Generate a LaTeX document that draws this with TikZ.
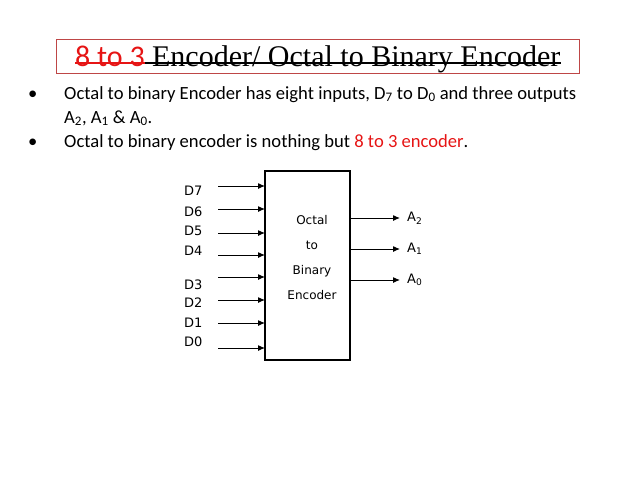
\documentclass[tikz,border=0pt]{standalone}
\usepackage{fontspec}
\setmainfont{Carlito}
\newfontfamily\titlefont{Liberation Serif}
\newfontfamily\diafont{DejaVu Sans}
\usetikzlibrary{arrows.meta}
\definecolor{myred}{RGB}{230,20,20}
\definecolor{boxred}{RGB}{190,70,70}
\begin{document}
\begin{tikzpicture}[x=1pt,y=-1pt,
  arr/.style={-{Latex[length=7pt,width=6pt]},line width=1pt},
  lbl/.style={font=\diafont\fontsize{13}{15}\selectfont,inner sep=0pt,anchor=west},
  btxt/.style={font=\fontsize{18.6}{22}\selectfont,inner sep=0pt,anchor=base west}]
\useasboundingbox (0,0) rectangle (638,493);
\draw[boxred,line width=0.8pt] (56,39) rectangle (579,73);
\node[inner sep=0pt,anchor=base west,font=\fontsize{30}{34}\selectfont,myred] (t8) at (75,66) {8 to 3};
\node[inner sep=0pt,anchor=base west,font=\titlefont\fontsize{30}{34}\selectfont] (tr) at ([xshift=7pt]t8.base east) {Encoder/ Octal to Binary Encoder};
\draw[myred,line width=1.2pt] ([yshift=3pt]t8.base west) -- ([yshift=3pt]t8.base east) coordinate (u1);
\draw[line width=1.2pt] (u1) -- ([yshift=3pt]tr.base east);
\node[btxt] (b1) at (28,99) {•};
\node[btxt] (t1) at (64,99) {Octal to binary Encoder has eight inputs, D\textsubscript{7} to D\textsubscript{0} and three outputs};
\node[btxt] (t2) at (64,123) {A\textsubscript{2}, A\textsubscript{1} \& A\textsubscript{0}.};
\node[btxt] (b2) at (28,147) {•};
\node[btxt] (t3) at (64,147) {Octal to binary encoder is nothing but \textcolor{myred}{8 to 3 encoder}.};
\draw[line width=1.2pt] (265,171) rectangle (350,360);
\node[font=\diafont\fontsize{12}{14}\selectfont,align=center,inner sep=0pt] (enc) at (312,258)
  {Octal\\[11pt]to\\[11pt]Binary\\[11pt]Encoder};
\foreach \n/\ay/\ly in {7/186/191,6/209/212,5/233/231,4/255/251,3/277/285,2/300/303,1/323/323,0/348/342}{
  \coordinate (s\n) at (218,\ay);
  \coordinate (e\n) at (265,\ay);
  \draw[arr] (s\n) -- (e\n);
  \node[lbl] (d\n) at (184,\ly) {D\n};
}
\foreach \n/\ay in {2/218,1/249,0/280}{
  \coordinate (os\n) at (350,\ay);
  \coordinate (oe\n) at (400,\ay);
  \draw[arr] (os\n) -- (oe\n);
  \node[lbl] (a\n) at (407,\ay) {A\textsubscript{\n}};
}
\end{tikzpicture}
\end{document}
